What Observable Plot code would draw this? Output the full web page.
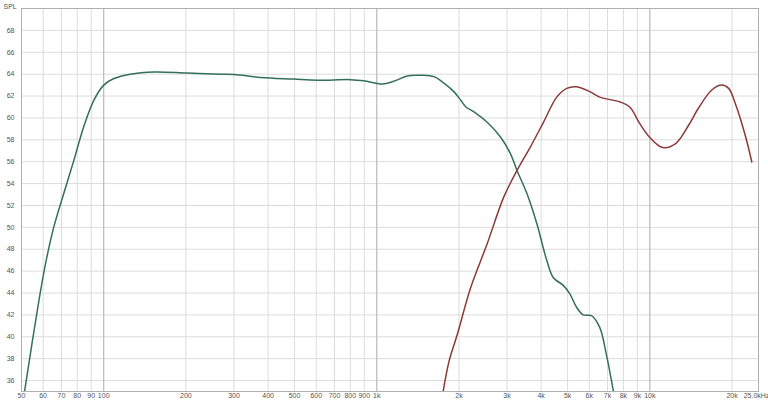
<!DOCTYPE html>
<html>
<head>
<meta charset="utf-8">
<script src="https://cdn.jsdelivr.net/npm/d3@7"></script>
<script src="https://cdn.jsdelivr.net/npm/@observablehq/plot@0.6"></script>
<style>
  html, body { margin: 0; padding: 0; background: #fff; }
</style>
</head>
<body>
<div id="chart"></div>
<script>
// Green (woofer) response: frequency (Hz), SPL (dB)
const greenFreq = [51.3, 57.9, 61.6, 65.6, 71.4, 77.7, 84.5, 92, 100, 109, 125, 153, 202, 268, 300, 375, 496, 605, 801, 896, 1047, 1154, 1293, 1416, 1454, 1626, 1767, 1919, 2033, 2120, 2270, 2537, 2838, 3086, 3263, 3550, 3860, 4195, 4434, 4820, 5101, 5392, 5700, 6115, 6553, 6930, 7386];
const greenSpl  = [35.0, 43.3, 47.0, 50.0, 53.1, 56.1, 59.2, 61.6, 63.0, 63.6, 64.0, 64.2, 64.1, 64.0, 63.97, 63.7, 63.55, 63.45, 63.5, 63.4, 63.1, 63.35, 63.84, 63.9, 63.9, 63.75, 63.15, 62.38, 61.6, 61.0, 60.55, 59.6, 58.26, 56.74, 55.2, 53.07, 50.3, 46.97, 45.4, 44.7, 43.9, 42.7, 42.0, 41.93, 40.86, 38.4, 34.76];

// Red (tweeter) response
const redFreq = [1743, 1841, 1974, 2208, 2537, 2917, 3263, 3650, 4078, 4561, 4963, 5392, 6030, 6553, 7780, 8442, 9180, 9965, 11150, 12430, 13870, 15040, 16830, 18340, 19430, 20570, 22440, 23630];
const redSpl  = [34.76, 37.8, 40.25, 44.5, 48.5, 52.76, 55.2, 57.34, 59.6, 61.9, 62.7, 62.84, 62.4, 61.9, 61.46, 61.0, 59.5, 58.26, 57.29, 57.65, 59.33, 60.86, 62.53, 63.0, 62.7, 61.3, 58.26, 55.97];

// Axis ticks
const xTicks = [50, 60, 70, 80, 90, 100, 200, 300, 400, 500, 600, 700, 800, 900, 1000, 2000, 3000, 4000, 5000, 6000, 7000, 8000, 9000, 10000, 20000];
const xTickLabels = ["50", "60", "70", "80", "90", "100", "200", "300", "400", "500", "600", "700", "800", "900", "1k", "2k", "3k", "4k", "5k", "6k", "7k", "8k", "9k", "10k", "20k"];
const xEndTick = [25000];
const xEndLabel = ["25.0kHz"];
const decadeLines = [100, 1000, 10000];
const yTicks = [36, 38, 40, 42, 44, 46, 48, 50, 52, 54, 56, 58, 60, 62, 64, 66, 68];
const yLabel = "SPL";

const green = greenFreq.map((f, i) => ({f, v: greenSpl[i]}));
const red = redFreq.map((f, i) => ({f, v: redSpl[i]}));
const minorGrid = xTicks.filter(t => t !== 50 && !decadeLines.includes(t));

const labelColor = "#555";

const chart = Plot.plot({
  width: 768,
  height: 403,
  marginLeft: 21,
  marginRight: 10,
  marginTop: 8,
  marginBottom: 12,
  style: {fontFamily: "Liberation Sans, Arial, sans-serif", fontSize: "7px", color: labelColor, background: "#fff"},
  x: {type: "log", domain: [50, 25000], axis: null},
  y: {domain: [35, 70], axis: null},
  marks: [
    Plot.ruleX(minorGrid, {stroke: "#dcdcdc", strokeWidth: 1}),
    Plot.ruleY(yTicks, {stroke: "#dcdcdc", strokeWidth: 1}),
    Plot.ruleX(decadeLines, {stroke: "#b8b8b8", strokeWidth: 1.2}),
    Plot.frame({stroke: "#b0b0b0"}),
    Plot.text(xTicks, {x: d => d, text: (d, i) => xTickLabels[i], frameAnchor: "bottom", dy: 6, fill: labelColor}),
    Plot.text(xEndTick, {x: d => d, text: (d, i) => xEndLabel[i], frameAnchor: "bottom", dy: 6, dx: -2, fill: labelColor}),
    Plot.text(yTicks, {y: d => d, text: d => String(d), frameAnchor: "left", dx: -7, textAnchor: "end", fill: labelColor}),
    Plot.text([yLabel], {frameAnchor: "top-left", dx: -18, dy: -4, textAnchor: "start", fill: labelColor}),
    Plot.line(green, {x: "f", y: "v", stroke: "#356f5c", strokeWidth: 1.5, curve: "catmull-rom", clip: true}),
    Plot.line(red, {x: "f", y: "v", stroke: "#8a3a3a", strokeWidth: 1.5, curve: "catmull-rom", clip: true})
  ]
});
document.getElementById("chart").appendChild(chart);
</script>
</body>
</html>
